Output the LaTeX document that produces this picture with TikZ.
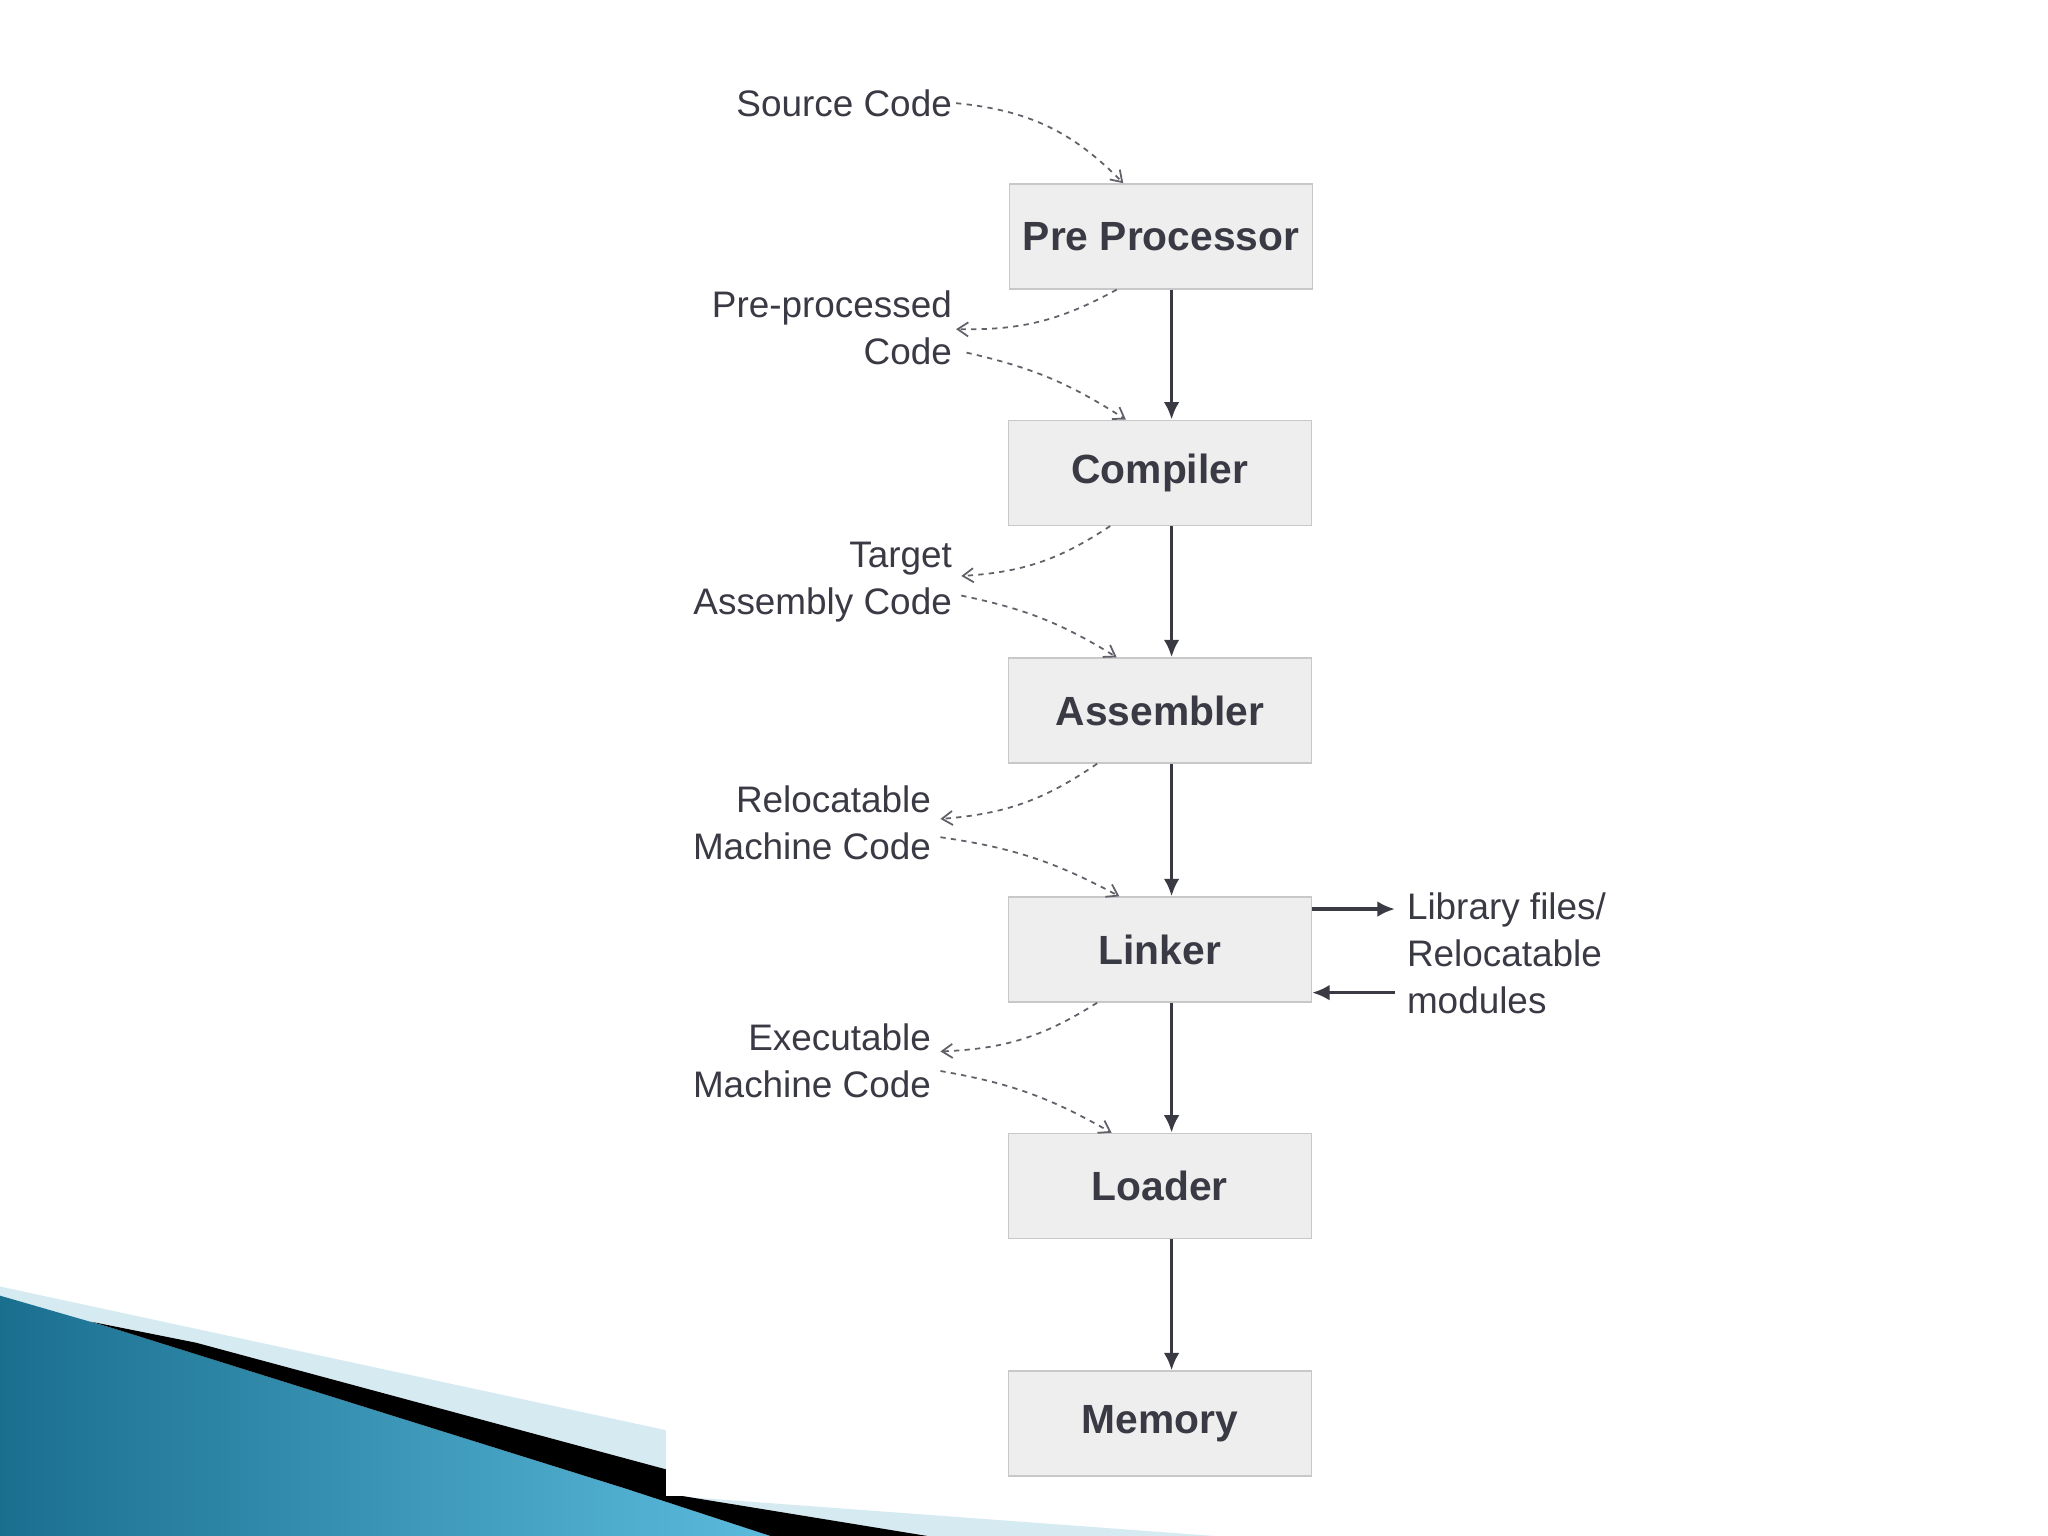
\documentclass[tikz,border=0pt]{standalone}
\usepackage{fontspec}
\setmainfont{Liberation Sans}
\usetikzlibrary{arrows.meta}
\definecolor{boxfill}{HTML}{EEEEEE}
\definecolor{boxline}{HTML}{C8C8C8}
\definecolor{txt}{HTML}{3A3A45}
\definecolor{lblue}{HTML}{D6EAF2}
\definecolor{dblue}{HTML}{1A6F8F}
\definecolor{mblue}{HTML}{5BBBDD}
\tikzset{
  stagebox/.style={draw=boxline, fill=boxfill, minimum width=3.03cm, minimum height=1.05cm, text=txt, font=\fontsize{11.6}{14}\selectfont\bfseries, inner sep=0pt},
  lbl/.style={text=txt, font=\fontsize{10.5}{13.4}\selectfont, align=right, inner sep=1pt},
  flow/.style={draw=txt, line width=1pt, -{Latex[length=5pt,width=4.5pt]}},
  dflow/.style={draw=txt!80, dashed, dash pattern=on 1.5pt off 1.5pt, line width=0.5pt, -{Straight Barb[length=3pt,width=4pt]}}
}
\begin{document}
\begin{tikzpicture}[x=0.013061cm, y=-0.013061cm]
\useasboundingbox (0,0) rectangle (1568,1176);
\fill[white] (0,0) rectangle (1568,1176);
% decoration
\fill[lblue] (0,985) -- (510,1095) -- (510,1145) -- (930,1176) -- (0,1176) -- cycle;
\shade[left color=dblue, right color=mblue] (0,992) -- (90,1018) -- (480,1140) -- (590,1176) -- (0,1176) -- cycle;
\fill[black] (70,1012) -- (150,1028) -- (510,1125) -- (520,1145) -- (710,1176) -- (590,1176) -- (480,1140) -- (90,1018) -- cycle;
\fill[white] (510,1095) rectangle (1568,1145);
% boxes
\node[stagebox] (pp) at (889,181) {Pre Processor};
\node[stagebox] (co) at (888,362) {Compiler};
\node[stagebox] (as) at (888,544) {Assembler};
\node[stagebox] (li) at (888,727) {Linker};
\node[stagebox] (lo) at (888,908) {Loader};
\node[stagebox] (me) at (888,1090) {Memory};
% main arrows
\draw[flow] (pp.south -| 897,0) -- (co.north -| 897,0);
\draw[flow] (co.south -| 897,0) -- (as.north -| 897,0);
\draw[flow] (as.south -| 897,0) -- (li.north -| 897,0);
\draw[flow] (li.south -| 897,0) -- (lo.north -| 897,0);
\draw[flow] (lo.south -| 897,0) -- (me.north -| 897,0);
% labels
\node[lbl, anchor=east] (l0) at (732,79) {Source Code};
\node[lbl, anchor=east] (l1) at (732,251) {Pre-processed\\Code};
\node[lbl, anchor=east] (l2) at (732,446) {Target\\Assembly Code};
\node[lbl, anchor=east] (l3) at (716,630) {Relocatable\\Machine Code};
\node[lbl, anchor=east] (l4) at (716,812) {Executable\\Machine Code};
\node[lbl, anchor=west, align=left] (lib) at (1074,730) {Library files/\\Relocatable\\modules};
% dashed
\draw[dflow] (l0.east) to[bend left=20] (pp.north -| 860,0);
\draw[dflow] (pp.south -| 855,0) to[bend left=15] (l1.north east |- 0,252);
\draw[dflow] (740,270) to[bend left=10] (co.north -| 862,0);
\draw[dflow] (co.south -| 850,0) to[bend left=15] (736,441);
\draw[dflow] (736,456) to[bend left=10] (as.north -| 855,0);
\draw[dflow] (as.south -| 840,0) to[bend left=15] (720,627);
\draw[dflow] (720,641) to[bend left=10] (li.north -| 857,0);
\draw[dflow] (li.south -| 840,0) to[bend left=15] (720,805);
\draw[dflow] (720,820) to[bend left=10] (lo.north -| 851,0);
% linker side
\draw[flow] (li.east |- 0,696) -- (1068,696);
\draw[flow] (1068,760) -- (li.east |- 0,760);
\end{tikzpicture}
\end{document}
